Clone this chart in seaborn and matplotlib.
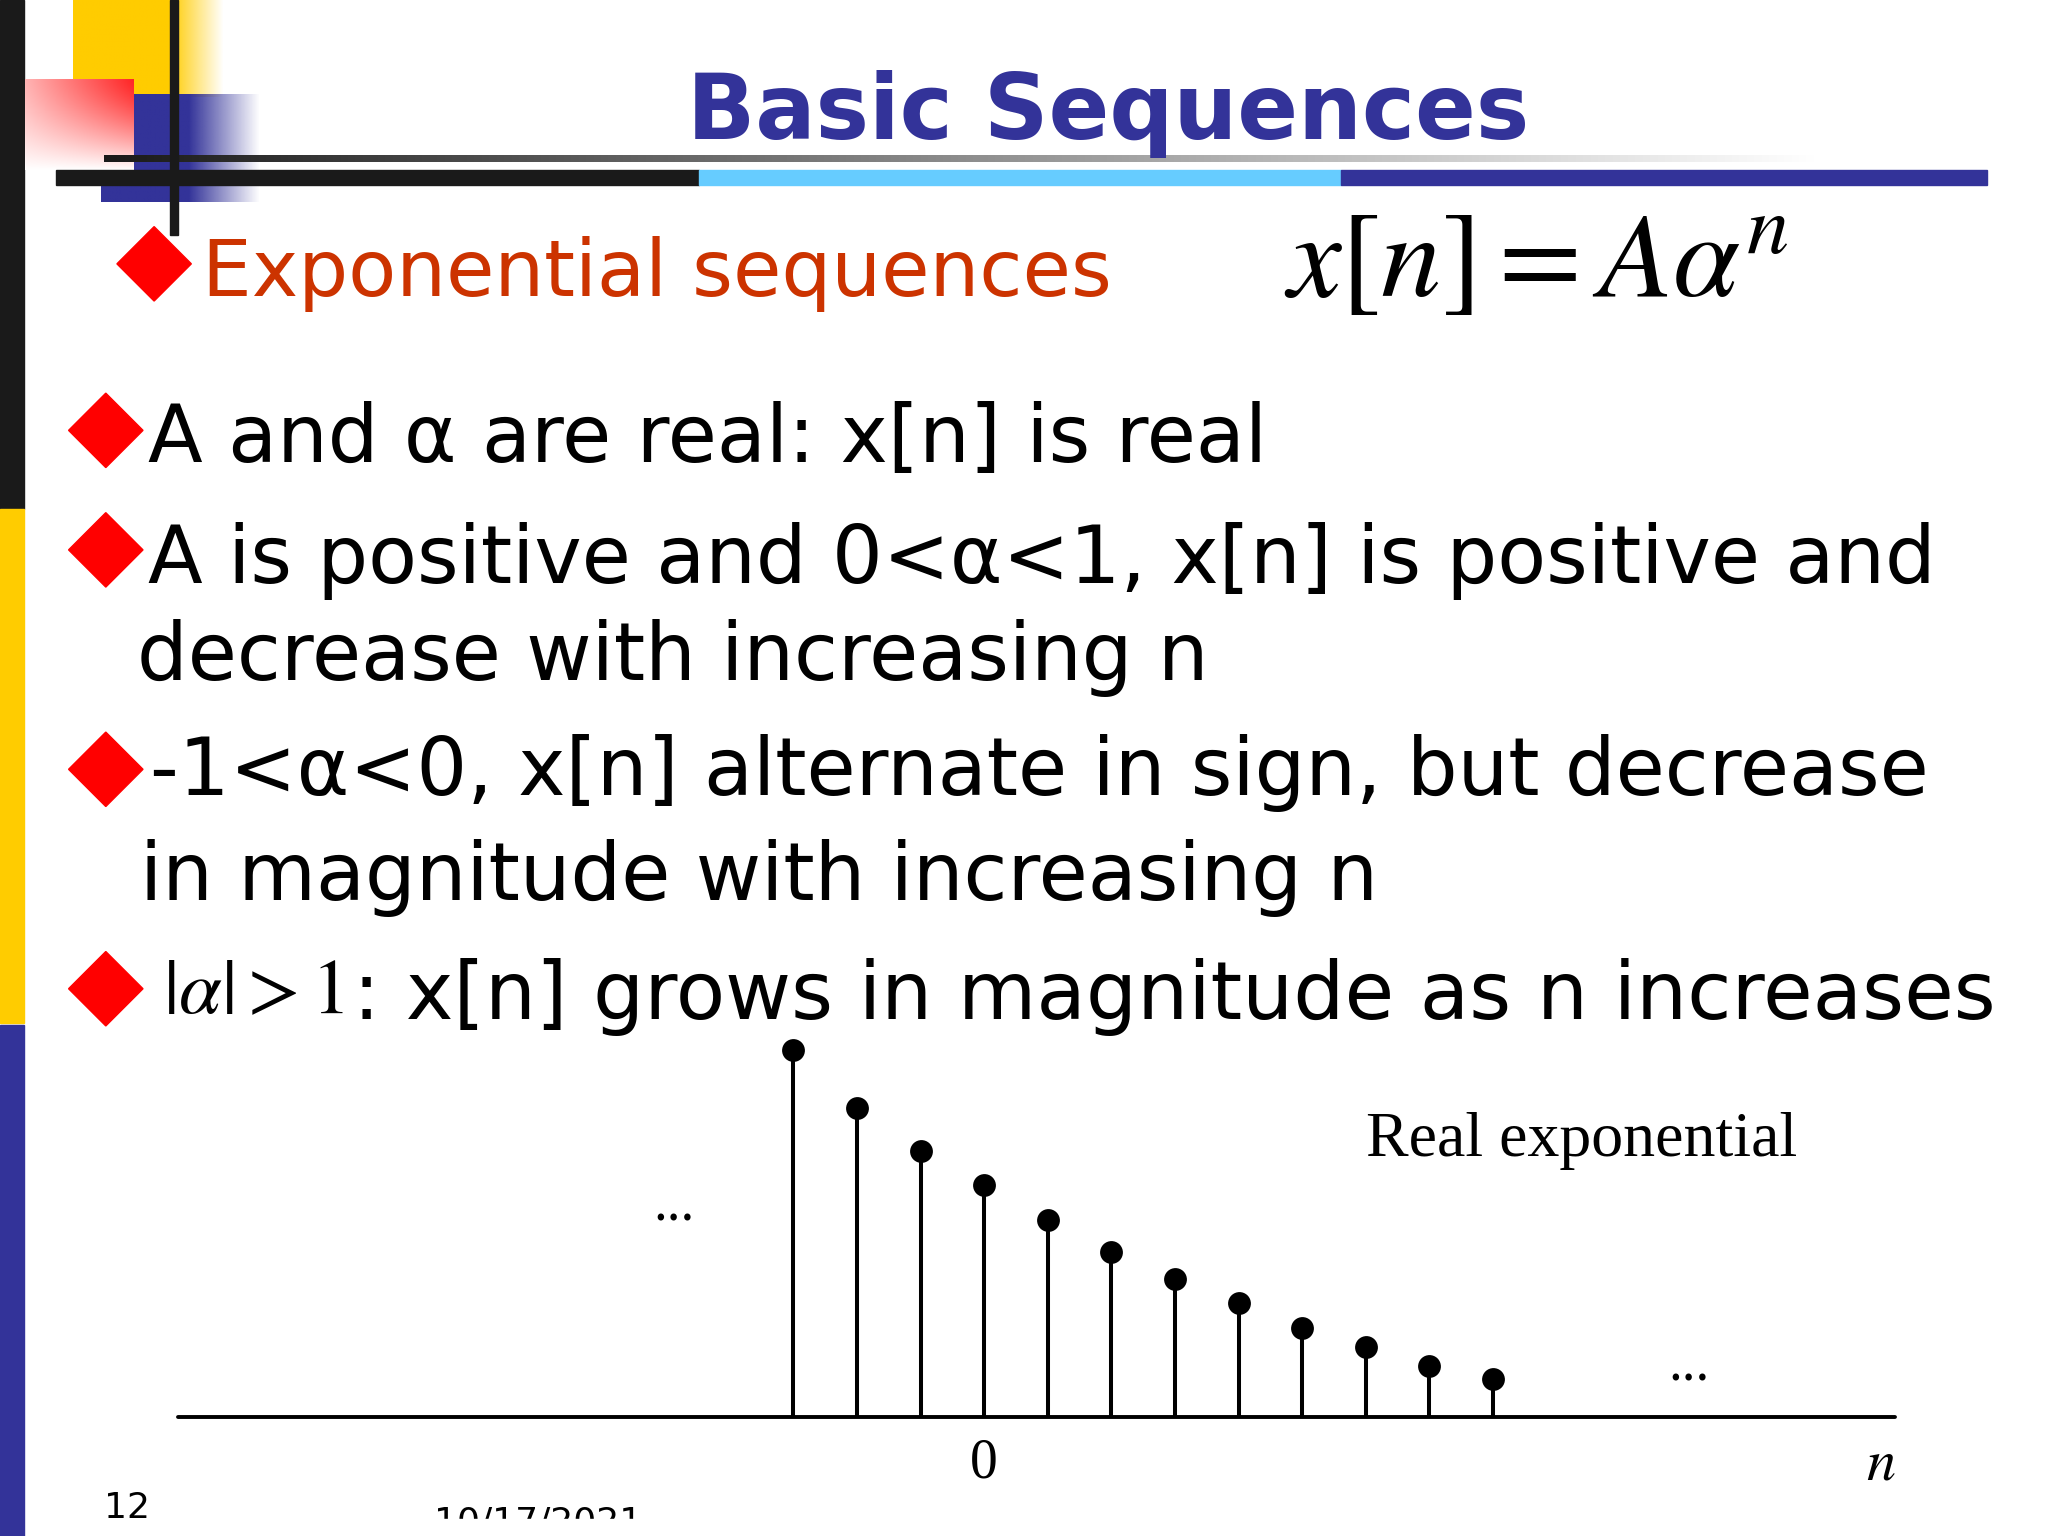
import numpy as np
import matplotlib
matplotlib.use("Agg")
import matplotlib.pyplot as plt
from matplotlib.patches import Rectangle, Polygon
import seaborn as sns

# ——— Slide text ———
title = "Basic Sequences"
subtitle = "Exponential sequences"
formula = r"$x[n]=A\alpha^{n}$"
bullet_lines = [
    "A and α are real: x[n] is real",
    "A is positive and 0<α<1, x[n] is positive and",
    "decrease with increasing n",
    "-1<α<0, x[n] alternate in sign, but decrease",
    "in magnitude with increasing n",
]
last_math = r"$|\alpha|>1$"
last_text = ": x[n] grows in magnitude as n increases"
plot_label = "Real exponential"
page_no = "12"
date_str = "10/17/2021"

# ——— Stem data ———
n_vals = [-3, -2, -1, 0, 1, 2, 3, 4, 5, 6, 7, 8]
x_vals = [1.0, 0.842, 0.724, 0.633, 0.536, 0.450, 0.377, 0.312, 0.244, 0.192, 0.140, 0.103]

# ——— Setup ———
sns.set_theme(style="white")
plt.rcParams["font.family"] = ["DejaVu Sans"]
plt.rcParams["mathtext.fontset"] = "stix"
plt.rcParams["text.color"] = "black"
plt.rcParams["xtick.color"] = "black"

W, H = 1568, 1176          # slide units
SC = 2048 / W              # pixels per slide unit

fig = plt.figure(figsize=(20.48, 15.36), dpi=100)
fig.patch.set_facecolor("white")
renderer = fig.canvas.get_renderer()

bg = fig.add_axes([0, 0, 1, 1])


def fit_size(txt, width, **kw):
    t = bg.text(0, 0, txt, fontsize=50, **kw)
    w = t.get_window_extent(renderer).width
    t.remove()
    return 50 * width * SC / w


def gradient(extent, rgb, alpha, z):
    img = np.zeros(alpha.shape + (4,))
    img[..., :3] = rgb
    img[..., 3] = alpha
    bg.imshow(img, extent=extent, origin="upper", aspect="auto",
              zorder=z, interpolation="bilinear")


# ——— Decorations ———
black = "#1a1a1a"
navy = "#333399"
yellow = "#FFCC00"

# left strip
bg.add_patch(Rectangle((0, 0), 18, 390, color=black, zorder=1))
bg.add_patch(Rectangle((0, 390), 18, 393, color=yellow, zorder=1))
bg.add_patch(Rectangle((0, 785), 18, H - 785, color=navy, zorder=1))

# logo squares
xs = np.linspace(56, 171, 200)
a = np.clip((171 - xs) / (171 - 130), 0, 1)
gradient((56, 171, 74, 0), (1.0, 0.8, 0.0), np.tile(a, (10, 1)), 2)

xs = np.linspace(77, 198, 200)
a = np.clip((198 - xs) / (198 - 144), 0, 1)
gradient((77, 198, 155, 73), (0.2, 0.2, 0.6), np.tile(a, (10, 1)), 3)

u = np.linspace(0, 1, 120)[None, :]
v = np.linspace(0, 1, 120)[:, None]
a = (0.35 + 0.65 * u) * np.clip(1 - v ** 1.4, 0, 1)
red_img = np.ones((120, 120, 4))
red_img[..., 1] = 1 - a * 0.85
red_img[..., 2] = 1 - a * 0.85
bg.imshow(red_img, extent=(19, 102, 130, 61), origin="upper", aspect="auto",
          zorder=4, interpolation="bilinear")

# title rules
g = np.linspace(0.1, 1.0, 400)
line_img = np.ones((1, 400, 4))
line_img[0, :, 0] = g
line_img[0, :, 1] = g
line_img[0, :, 2] = g
bg.imshow(line_img, extent=(80, 1390, 124, 119), origin="upper", aspect="auto",
          zorder=5, interpolation="bilinear")
bg.add_patch(Rectangle((43, 130), 535 - 43, 12, color=black, zorder=5))
bg.add_patch(Rectangle((535, 130), 1027 - 535, 12, color="#66CCFF", zorder=5))
bg.add_patch(Rectangle((1027, 130), 1521 - 1027, 12, color=navy, zorder=5))
bg.add_patch(Rectangle((130, 0), 6, 180, color=black, zorder=6))

# bullets
for cx, cy in [(118, 202), (81, 329.5), (81, 421), (81, 589), (81, 757)]:
    bg.add_patch(Polygon([(cx - 28.5, cy), (cx, cy - 28.5), (cx + 28.5, cy), (cx, cy + 28.5)],
                         closed=True, color="#FF0000", zorder=6))

# ——— Text ———
fs = fit_size(title, 646, fontweight="bold")
bg.text(526, 106.6, title, fontsize=fs, fontweight="bold", color=navy,
        va="baseline", ha="left", zorder=7)

fs = fit_size(subtitle, 697)
bg.text(155, 226.6, subtitle, fontsize=fs, color="#CC3300",
        va="baseline", ha="left", zorder=7)

fs = fit_size(formula, 388)
bg.text(983, 227, formula, fontsize=fs, color="black",
        va="baseline", ha="left", zorder=7)

body_fs = fit_size(bullet_lines[1], 1370)
body_pos = [(113, 354), (113, 446), (105, 521), (115, 609), (107, 689)]
for (px, py), line in zip(body_pos, bullet_lines):
    bg.text(px, py, line, fontsize=body_fs, color="black",
            va="baseline", ha="left", zorder=7)

fs = fit_size(last_math, 139)
bg.text(125, 776, last_math, fontsize=fs, color="black",
        va="baseline", ha="left", zorder=7)
fs = fit_size(last_text, 1258)
bg.text(270, 780, last_text, fontsize=fs, color="black",
        va="baseline", ha="left", zorder=7)

bg.text(80, 1162, page_no, fontsize=26, color="black",
        va="baseline", ha="left", zorder=7)
bg.text(332, 1173, date_str, fontsize=26, color="black",
        va="baseline", ha="left", zorder=7)
bg.add_patch(Rectangle((300, 1163), 240, 20, color="white", zorder=8))

bg.set_xlim(0, W)
bg.set_ylim(H, 0)
bg.axis("off")

# ——— Stem plot ———
x0_px, x1_px, base_px, top_px = 136, 1451, 1085, 790
ax = fig.add_axes([x0_px / W, 1 - base_px / H, (x1_px - x0_px) / W, (base_px - top_px) / H])
ax.set_facecolor("none")

step = 48.7
n_zero = 753.5
ax.vlines(n_vals, 0, x_vals, colors="black", linewidth=2.9, zorder=2)
sns.scatterplot(x=n_vals, y=x_vals, ax=ax, s=270, color="black",
                edgecolor="black", linewidth=0, zorder=3, clip_on=False, legend=False)
ax.axhline(0, color="black", linewidth=2.8, clip_on=False, zorder=2)

ax.set_xlim((x0_px - n_zero) / step, (x1_px - n_zero) / step)
ax.set_ylim(0, (base_px - top_px) / 281)
ax.set_xticks([0])
ax.set_xticklabels(["0"], fontfamily="Liberation Serif", fontsize=40)
ax.tick_params(axis="x", length=0, pad=15)
ax.set_yticks([])
ax.set_xlabel("")
ax.set_ylabel("")
sns.despine(ax=ax, left=True, bottom=True)

ax.text(1.0, -0.163, "$n$", transform=ax.transAxes, fontsize=42,
        ha="right", va="baseline")
ax.text(-4.88, 0.537, "...", fontfamily="Liberation Serif", fontsize=40,
        ha="center", va="baseline")
ax.text(11.08, 0.100, "...", fontfamily="Liberation Serif", fontsize=40,
        ha="center", va="baseline")
ax.text(6.0, 0.712, plot_label, fontfamily="Liberation Serif", fontsize=46,
        ha="left", va="baseline")

fig.savefig("out.png", dpi=100, facecolor="white")
